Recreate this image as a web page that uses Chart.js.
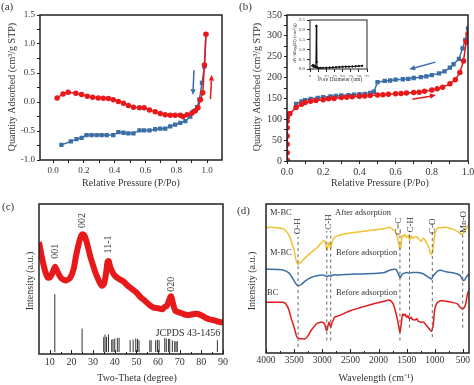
<!DOCTYPE html>
<html><head><meta charset="utf-8">
<script src="https://cdn.jsdelivr.net/npm/chart.js@4/dist/chart.umd.min.js"></script>
<style>
html,body{margin:0;padding:0;background:#fff;}
#wrap{position:relative;width:474px;height:385px;overflow:hidden;background:#fff;}
canvas{position:absolute;display:block;}
</style></head><body>
<div id="wrap">
<canvas id="ca" width="237" height="195" style="left:0;top:0"></canvas>
<canvas id="cb" width="237" height="195" style="left:237px;top:0"></canvas>
<canvas id="cc" width="237" height="190" style="left:0;top:195px"></canvas>
<canvas id="cd" width="237" height="190" style="left:237px;top:195px"></canvas>
<canvas id="ci" width="84" height="72" style="left:288px;top:15px"></canvas>
</div>
<script>
// ---------- DATA ----------
// (a) isotherm of sample 1
const aAdsP = [0.026,0.065,0.098,0.148,0.185,0.222,0.257,0.293,0.326,0.359,0.391,0.424,0.457,0.489,0.522,0.561,0.591,0.626,0.663,0.696,0.728,0.761,0.793,0.826,0.843,0.870,0.902,0.924,0.941,0.957,0.972,0.983,0.993];
const aAdsQ = [0.07,0.14,0.17,0.15,0.13,0.10,0.08,0.07,0.065,0.06,0.04,0.01,-0.02,-0.06,-0.09,-0.10,-0.10,-0.14,-0.17,-0.20,-0.22,-0.23,-0.23,-0.23,-0.25,-0.22,-0.19,-0.15,-0.10,0.04,0.16,0.64,1.17];
const aDesP = [0.054,0.115,0.152,0.185,0.217,0.25,0.283,0.315,0.348,0.391,0.424,0.457,0.489,0.522,0.561,0.591,0.626,0.663,0.696,0.728,0.761,0.793,0.826,0.859,0.891,0.913,0.935,0.95,0.967,0.983,0.993];
const aDesQ = [-0.74,-0.68,-0.64,-0.62,-0.57,-0.57,-0.57,-0.57,-0.57,-0.57,-0.52,-0.53,-0.54,-0.54,-0.49,-0.49,-0.49,-0.47,-0.46,-0.46,-0.42,-0.39,-0.36,-0.33,-0.25,-0.16,-0.09,0.04,0.33,0.61,1.17];
const aXTicks = [0,0.1,0.2,0.3,0.4,0.5,0.6,0.7,0.8,0.9,1.0];
const aXLabels = ['0.0','','0.2','','0.4','','0.6','','0.8','','1.0'];
const aYTicks = [-1,-0.75,-0.5,-0.25,0,0.25,0.5,0.75,1,1.25,1.5];
const aYLabels = ['-1.0','','-0.5','','0.0','','0.5','','1.0','','1.5'];
// arrows [x1,y1,x2,y2]
const aArrowDes = [0.915,0.55,0.908,0.12];
const aArrowAds = [1.022,0.05,1.03,0.47];

// (b) isotherm of sample 2
const bAdsP = [0.001,0.001,0.001,0.001,0.001,0.001,0.002,0.004,0.016,0.05,0.08,0.1,0.13,0.16,0.2,0.23,0.26,0.3,0.33,0.36,0.4,0.43,0.46,0.5,0.53,0.56,0.6,0.63,0.66,0.7,0.73,0.76,0.8,0.83,0.86,0.9,0.93,0.955,0.975,0.99,1.0];
const bAdsQ = [2,20,40,60,80,95,105,110,114,128,136,140,143,145,147,149,150,152,153,154,155,156,157,158,159,160,161,162,163,164,165,167,170,173,177,185,195,212,240,285,305];
const bDesP = [1.0,0.985,0.97,0.95,0.92,0.9,0.87,0.84,0.8,0.77,0.74,0.7,0.67,0.64,0.6,0.57,0.54,0.5,0.48,0.46,0.43,0.4,0.37,0.34,0.3,0.27,0.24,0.2,0.17,0.13,0.1,0.08,0.05];
const bDesQ = [318,290,270,245,232,224,215,210,206,203,201,199,197,196,195,193,192,189,166,163,161,160,159,158,157,156,155,153,151,149,146,143,137];
const bXTicks = [0,0.1,0.2,0.3,0.4,0.5,0.6,0.7,0.8,0.9,1.0];
const bXLabels = ['0.0','','0.2','','0.4','','0.6','','0.8','','1.0'];
const bYTicks = [0,25,50,75,100,125,150,175,200,225,250,275,300,325,350];
const bYLabels = ['0','','50','','100','','150','','200','','250','','300','','350'];
const bArrowDes = [0.82,237,0.675,220];
const bArrowAds = [0.693,148,0.823,158];
// inset: pore size distribution
const insD = [1.5,2.0,2.4,2.8,3.2,3.6,3.9,4.1,4.4,4.8,5.5,6.5,8,10,12,14,16,18,20,22,24,26,28,30,32];
const insV = [0.16,0.2,0.12,0.15,0.1,0.12,2.2,0.35,0.08,0.05,0.04,0.05,0.05,0.06,0.07,0.08,0.09,0.1,0.11,0.12,0.12,0.13,0.14,0.15,0.16];
const insXTicks = [0,5,10,15,20,25,30,35];
const insYTicks = [0,0.5,1.0,1.5,2.0,2.5];
const insYLabels = ['0.0','0.5','1.0','1.5','2.0','2.5'];

// (c) XRD
const xrdTheta = [5,6,7,8,9,10,11,12,12.5,13.5,15,16.5,18,19.5,21,22,23,24,25,26,27,28,29,30,31,32,33,34,35,36,36.7,37.2,38,39,40,42,44,46,48,50,52,54,56,58,60,62,63,64,65,66,67,68,70,72,74,76,78,80,82,84,86,88,90];
const xrdInt = [74.7,66.8,60,54.5,51,51,53.4,57,58,55,51,49.3,49.3,51,56.7,64.6,71.3,76.9,79.8,79,74.7,69,63.5,59,54.5,51,47.8,45.5,46.6,54,61.5,62,57.5,54.5,52.2,50,48.4,45.5,43.3,41,37.7,35.4,32.7,30.9,30.5,29.8,31.4,32,35.4,38.5,33.2,28.7,27.6,26.5,26,26.5,26.9,25.8,24.2,23,22.4,21.5,20.9];
const stickTheta = [12.3,24.9,34.9,35.5,36.2,37.1,38.6,39.2,40.0,41.2,42.0,47.1,48.5,49.7,50.5,51.2,56.2,56.8,58.9,59.7,60.5,63.1,63.8,64.8,65.4,66.6,67.7,68.3,68.9,87.4];
const stickH = [39.9,17,11.2,13,11.4,13,9.6,9.9,10.3,10.8,10.8,9.2,9.6,10.3,10.1,9.2,9.2,9.2,9.2,9.6,9.2,10.8,10.3,10.1,10.1,9,8.5,8.5,8.5,9.2];
const stickBase = 1.3;
const peakNames = ['001','002','11-1','020'];
const peakTheta = [12.5,25,37,66.3];
const peakLabelY = [68.5,89,73,46.5];
const cXTicks = [10,20,30,40,50,60,70,80,90];

// (d) FTIR
const ftBCx = [4000,3800,3700,3650,3600,3550,3500,3450,3400,3350,3300,3250,3200,3100,3050,3000,2960,2930,2920,2900,2880,2860,2850,2830,2800,2780,2700,2500,2300,2100,1900,1820,1780,1740,1720,1680,1650,1630,1620,1600,1580,1570,1550,1530,1500,1480,1450,1420,1400,1350,1320,1300,1250,1200,1150,1100,1060,1030,1000,970,950,900,800,700,600,550,500,470,450,420,400];
const ftBCy = [34,34,34,33,29.6,22.9,17.3,10.7,9.6,9.5,9.6,11.8,15.1,19.6,20.5,20.7,19.6,15.5,15.1,18,20.7,18.5,17.3,20,22.5,24,25.1,28.4,30.7,32.9,34.7,35.6,35,33,30.7,25.1,19.6,15.5,14,18.5,25,26.2,25,26,24,25,22.9,24,22.5,22.2,23,21.5,20.7,20.7,18.5,16.2,14.7,18.5,29.6,33,34,35.1,34.7,34,33,30.7,29.6,31,33.3,39.6,41.8];
const ftMBCx = [4000,3800,3700,3600,3550,3500,3450,3420,3380,3300,3200,3100,3000,2960,2920,2880,2850,2800,2700,2500,2300,2100,1900,1800,1700,1660,1630,1620,1600,1580,1550,1500,1450,1400,1300,1200,1120,1080,1060,1040,1000,950,900,800,700,600,550,500,470,450,400];
const ftMBCy = [56.2,56,55.7,54,51.5,48.4,45.6,45.1,45.8,48.4,50.7,51.8,52.4,52,51.3,52,51.6,52.4,52.4,52.9,53,53.3,54,55.6,56.2,54,51.5,50.7,51.5,53,53.5,54,53.5,54,54,53,51,50,49.6,51,53,55,55.5,54.5,54,53,52,48.9,49,50.5,53];
const ftAfterx = [4000,3900,3800,3700,3650,3600,3550,3500,3470,3440,3420,3380,3300,3200,3100,3050,3000,2960,2940,2920,2900,2880,2860,2850,2830,2800,2700,2500,2300,2100,1900,1800,1750,1700,1670,1640,1620,1600,1580,1560,1540,1500,1470,1450,1420,1400,1350,1300,1250,1200,1150,1110,1080,1060,1040,1020,1000,970,950,900,800,700,600,550,520,480,450,400];
const ftAftery = [84,84.4,84,83.5,82,79.6,75,69,63,60,59.6,61,64,67.5,70.5,72.5,74.5,75.5,73,69,71.5,74,72,70,74,77,79,80.5,81.5,82.5,83.5,84.4,83,81.8,78,73,69.6,72,79,78,79.5,77.5,79,76,78.5,77,78,77.3,75,77,74,71,67,66.2,68,74,79.6,83,84,84,84.4,83.3,81.8,80,79.6,81,83,86];
const bandPos = [3430,2920,2850,1620,1450,1045,505];
const bandTop = [78,82,82,82,82,82,82];
const bandBot = [4,8.4,8.4,8.4,17,10.7,17];
const bandNames = ['O-H','C-H','','C=C','C-H','C-O','Mn-O'];
const bandLabelX = [3430,2890,2850,1635,1430,1042,488];
const bandLabelY = [85,88,0,85,86,85,88];
const dXTicks = [4000,3500,3000,2500,2000,1500,1000,500];

// ---------- HELPERS ----------
const SERIF = '"Liberation Serif","Times New Roman",serif';
const TXT = '#333';
const RED = '#e8191b';
const BLUE = '#3b6fa6';
const YEL = '#f1c232';
const zip = (xs, ys) => xs.map((x, i) => ({x, y: ys[i]}));
function fixAxis(size) {
  return s => {
    if (s.isHorizontal()) s.height = size; else s.width = size;
    s.paddingLeft = s.paddingRight = s.paddingTop = s.paddingBottom = 0;
  };
}
const setTicks = vals => s => { s.ticks = vals.map(v => ({value: v})); };

const boxPlugin = {
  id: 'box',
  afterDraw(chart, args, o) {
    const {ctx, chartArea: a} = chart;
    ctx.save(); ctx.strokeStyle = '#222'; ctx.lineWidth = o.width || 1.5;
    ctx.strokeRect(a.left, a.top, a.right - a.left, a.bottom - a.top);
    ctx.restore();
  }
};
const textPlugin = {
  id: 'texts',
  afterDraw(chart, args, o) {
    const ctx = chart.ctx;
    (o.items || []).forEach(t => {
      let x = t.x, y = t.y;
      if (t.vx !== undefined) x = chart.scales.x.getPixelForValue(t.vx);
      if (t.vy !== undefined) y = chart.scales.y.getPixelForValue(t.vy);
      ctx.save(); ctx.translate(x, y);
      if (t.rot) ctx.rotate(t.rot * Math.PI / 180);
      ctx.font = t.font; ctx.fillStyle = t.color || TXT;
      ctx.textAlign = t.align || 'center'; ctx.textBaseline = t.base || 'middle';
      ctx.fillText(t.text, 0, 0); ctx.restore();
    });
  }
};
const arrowPlugin = {
  id: 'arrows',
  afterDatasetsDraw(chart, args, o) {
    const ctx = chart.ctx, sx = chart.scales.x, sy = chart.scales.y;
    (o.items || []).forEach(a => {
      const x1 = sx.getPixelForValue(a.p[0]), y1 = sy.getPixelForValue(a.p[1]);
      const x2 = sx.getPixelForValue(a.p[2]), y2 = sy.getPixelForValue(a.p[3]);
      const ang = Math.atan2(y2 - y1, x2 - x1), h = 6, w = 2.6;
      const bx = x2 - h * Math.cos(ang), by = y2 - h * Math.sin(ang);
      ctx.save(); ctx.strokeStyle = a.color; ctx.fillStyle = a.color; ctx.lineWidth = 1.5;
      ctx.beginPath(); ctx.moveTo(x1, y1); ctx.lineTo(bx, by); ctx.stroke();
      ctx.beginPath(); ctx.moveTo(x2, y2);
      ctx.lineTo(bx + w * Math.sin(ang), by - w * Math.cos(ang));
      ctx.lineTo(bx - w * Math.sin(ang), by + w * Math.cos(ang));
      ctx.closePath(); ctx.fill(); ctx.restore();
    });
  }
};
const innerTicks = {
  id: 'innerTicks',
  afterDraw(chart, args, o) {
    if (!o.values) return;
    const ctx = chart.ctx, sx = chart.scales.x, b = chart.chartArea.bottom;
    ctx.save(); ctx.strokeStyle = '#222'; ctx.lineWidth = 1;
    o.values.forEach((v, i) => {
      const x = Math.round(sx.getPixelForValue(v)) + 0.5;
      ctx.beginPath(); ctx.moveTo(x, b); ctx.lineTo(x, b - o.lens[i]); ctx.stroke();
    });
    ctx.restore();
  }
};
Chart.defaults.font.family = SERIF;
Chart.defaults.color = TXT;
Chart.defaults.animation = false;
Chart.defaults.responsive = false;
const noLegend = {legend: {display: false}, tooltip: {enabled: false}};
const plugs = [boxPlugin, textPlugin, arrowPlugin, innerTicks];

function outAxis(ticks, labels, size, fsize, extra) {
  return Object.assign({
    type: 'linear', afterFit: fixAxis(size), afterBuildTicks: setTicks(ticks),
    grid: {drawOnChartArea: false, drawTicks: true, tickLength: 3, color: '#222', lineWidth: 1},
    border: {display: false},
    ticks: {autoSkip: false, maxRotation: 0, padding: 2, font: {size: fsize}, color: TXT,
            callback: (v, i) => labels[i]}
  }, extra || {});
}

// ---------- (a) ----------
new Chart(document.getElementById('ca'), {
  type: 'line',
  data: {datasets: [
    {data: zip(aAdsP, aAdsQ), borderColor: RED, backgroundColor: RED, borderWidth: 1.5, pointRadius: 2, pointStyle: 'circle'},
    {data: zip(aDesP, aDesQ), borderColor: BLUE, backgroundColor: BLUE, borderWidth: 1.5, pointRadius: 2, pointStyle: 'rect'}
  ]},
  options: {
    layout: {padding: {left: 15, top: 15, right: 15, bottom: 15}},
    scales: {
      x: outAxis(aXTicks, aXLabels, 20, 9, {min: -0.085, max: 1.097}),
      y: outAxis(aYTicks, aYLabels, 25, 9, {min: -1, max: 1.5})
    },
    plugins: Object.assign({}, noLegend, {
      arrows: {items: [{p: aArrowDes, color: BLUE}, {p: aArrowAds, color: RED}]},
      texts: {items: [
        {text: '(a)', x: 1, y: 7, align: 'left', font: '11px ' + SERIF},
        {text: 'Relative Pressure (P/Po)', x: 131, y: 183, font: '10px ' + SERIF},
        {text: 'Quantity Adsorbed (cm\u00B3/g STP)', x: 12, y: 87, rot: -90, font: '10px ' + SERIF}
      ]}
    })
  },
  plugins: plugs
});

// ---------- (b) ----------
new Chart(document.getElementById('cb'), {
  type: 'line',
  data: {datasets: [
    {data: zip(bAdsP, bAdsQ), borderColor: RED, backgroundColor: RED, borderWidth: 1.5, pointRadius: 2, pointStyle: 'circle'},
    {data: zip(bDesP, bDesQ), borderColor: BLUE, backgroundColor: BLUE, borderWidth: 1.5, pointRadius: 2, pointStyle: 'rect'}
  ]},
  options: {
    layout: {padding: {left: 22, top: 15, right: 6, bottom: 14}},
    scales: {
      x: outAxis(bXTicks, bXLabels, 20, 10, {min: 0, max: 1}),
      y: outAxis(bYTicks, bYLabels, 28, 10, {min: 0, max: 350})
    },
    plugins: Object.assign({}, noLegend, {
      arrows: {items: [{p: bArrowDes, color: BLUE}, {p: bArrowAds, color: RED}]},
      texts: {items: [
        {text: '(b)', x: 2, y: 7, align: 'left', font: '11px ' + SERIF},
        {text: 'Relative Pressure (P/Po)', x: 143, y: 183, font: '10px ' + SERIF},
        {text: 'Quantity Adsorbed (cm\u00B3/g STP)', x: 20, y: 87, rot: -90, font: '10px ' + SERIF}
      ]}
    })
  },
  plugins: plugs
});

// ---------- inset ----------
new Chart(document.getElementById('ci'), {
  type: 'line',
  data: {datasets: [
    {data: zip(insD, insV), borderColor: '#111', backgroundColor: '#111', borderWidth: 1, pointRadius: 0.8, tension: 0}
  ]},
  options: {
    layout: {padding: {left: 10, top: 4, right: 2, bottom: 10}},
    scales: {
      x: outAxis(insXTicks, insXTicks.map(String), 8, 5, {min: 0, max: 35}),
      y: outAxis(insYTicks, insYLabels, 12, 5, {min: 0, max: 2.5})
    },
    plugins: Object.assign({}, noLegend, {
      box: {width: 1},
      texts: {items: [
        {text: 'Pore Diameter (nm)', x: 52, y: 65, font: '5.5px ' + SERIF},
        {text: 'dV/dlog(D) (cm\u00B3/g)', x: 7, y: 28, rot: -90, font: '5px ' + SERIF}
      ]}
    })
  },
  plugins: [boxPlugin, textPlugin]
});

// ---------- (c) ----------
const stickData = [];
stickTheta.forEach((t, i) => { stickData.push({x: t, y: stickBase}, {x: t, y: stickH[i]}, {x: t, y: null}); });
const cTickVals = [], cTickLens = [];
for (let i = 0; i < cXTicks.length; i++) { cTickVals.push(cXTicks[i]); cTickLens.push(4); if (i < cXTicks.length - 1) { cTickVals.push((cXTicks[i] + cXTicks[i+1]) / 2); cTickLens.push(2); } }
new Chart(document.getElementById('cc'), {
  type: 'line',
  data: {datasets: [
    {data: zip(xrdTheta, xrdInt), borderColor: RED, borderWidth: 6, pointRadius: 0, tension: 0.25},
    {data: stickData, borderColor: '#333', borderWidth: 1, pointRadius: 0, spanGaps: false}
  ]},
  options: {
    layout: {padding: {left: 39, top: 9, right: 14, bottom: 6}},
    scales: {
      x: {type: 'linear', min: 5, max: 90, afterFit: fixAxis(25), afterBuildTicks: setTicks(cXTicks),
          grid: {display: false, drawTicks: false}, border: {display: false},
          ticks: {autoSkip: false, maxRotation: 0, padding: 2, font: {size: 10}, color: TXT, callback: v => String(v)}},
      y: {type: 'linear', min: 0, max: 100, display: false, afterFit: fixAxis(0)}
    },
    plugins: Object.assign({}, noLegend, {
      innerTicks: {values: cTickVals, lens: cTickLens},
      texts: {items: [
        {text: '(c)', x: 2, y: 12, align: 'left', font: '11px ' + SERIF},
        {text: 'Two-Theta (degree)', x: 137, y: 183, font: '10px ' + SERIF},
        {text: 'Intensity (a.u.)', x: 30, y: 86, rot: -90, font: '10px ' + SERIF},
        {text: 'JCPDS 43-1456', x: 188, y: 138, font: '10px ' + SERIF}
      ].concat(peakNames.map((n, i) => ({text: n, vx: peakTheta[i], vy: peakLabelY[i], rot: -90, font: '10px ' + SERIF})))}
    })
  },
  plugins: plugs
});

// ---------- (d) ----------
const bandSets = bandPos.map((p, i) => ({data: [{x: p, y: bandBot[i]}, {x: p, y: bandTop[i]}], borderColor: '#666', borderWidth: 1, borderDash: [3, 3], pointRadius: 0}));
const dTickVals = [], dTickLens = [];
for (let i = 0; i < dXTicks.length; i++) { dTickVals.push(dXTicks[i]); dTickLens.push(4); dTickVals.push(dXTicks[i] - 250); dTickLens.push(2); }
new Chart(document.getElementById('cd'), {
  type: 'line',
  data: {datasets: bandSets.concat([
    {data: zip(ftAfterx, ftAftery), borderColor: YEL, borderWidth: 1.5, pointRadius: 0, tension: 0.3},
    {data: zip(ftMBCx, ftMBCy), borderColor: BLUE, borderWidth: 1.5, pointRadius: 0, tension: 0.3},
    {data: zip(ftBCx, ftBCy), borderColor: RED, borderWidth: 1.5, pointRadius: 0, tension: 0.3}
  ])},
  options: {
    layout: {padding: {left: 29, top: 9, right: 5, bottom: 7}},
    scales: {
      x: {type: 'linear', reverse: true, min: 393, max: 4000, afterFit: fixAxis(25), afterBuildTicks: setTicks(dXTicks),
          grid: {display: false, drawTicks: false}, border: {display: false},
          ticks: {autoSkip: false, maxRotation: 0, padding: 2, font: {size: 9.5}, color: TXT, callback: v => String(v)}},
      y: {type: 'linear', min: 0, max: 100, display: false, afterFit: fixAxis(0)}
    },
    plugins: Object.assign({}, noLegend, {
      innerTicks: {values: dTickVals.filter(v => v > 393), lens: dTickLens.filter((l, i) => dTickVals[i] > 393)},
      texts: {items: [
        {text: '(d)', x: 0, y: 16, align: 'left', font: '11px ' + SERIF},
        {text: 'Wavelength (cm\u207B\u00B9)', x: 139, y: 183, font: '10px ' + SERIF},
        {text: 'Intensity (a.u.)', x: 15, y: 86, rot: -90, font: '10px ' + SERIF},
        {text: 'M-BC', x: 33, y: 18, align: 'left', font: '8.5px ' + SERIF},
        {text: 'After adsorption', x: 98, y: 18, align: 'left', font: '8.5px ' + SERIF},
        {text: 'M-BC', x: 33, y: 58, align: 'left', font: '8.5px ' + SERIF},
        {text: 'Before adsorption', x: 99, y: 58, align: 'left', font: '8.5px ' + SERIF},
        {text: 'BC', x: 30, y: 98, align: 'left', font: '8.5px ' + SERIF},
        {text: 'Before adsorption', x: 99, y: 98, align: 'left', font: '8.5px ' + SERIF}
      ].concat(bandNames.map((n, i) => n ? ({text: n, vx: bandLabelX[i], vy: bandLabelY[i], rot: -90, font: '9px ' + SERIF}) : null).filter(Boolean))}
    })
  },
  plugins: plugs
});
</script>
</body></html>
